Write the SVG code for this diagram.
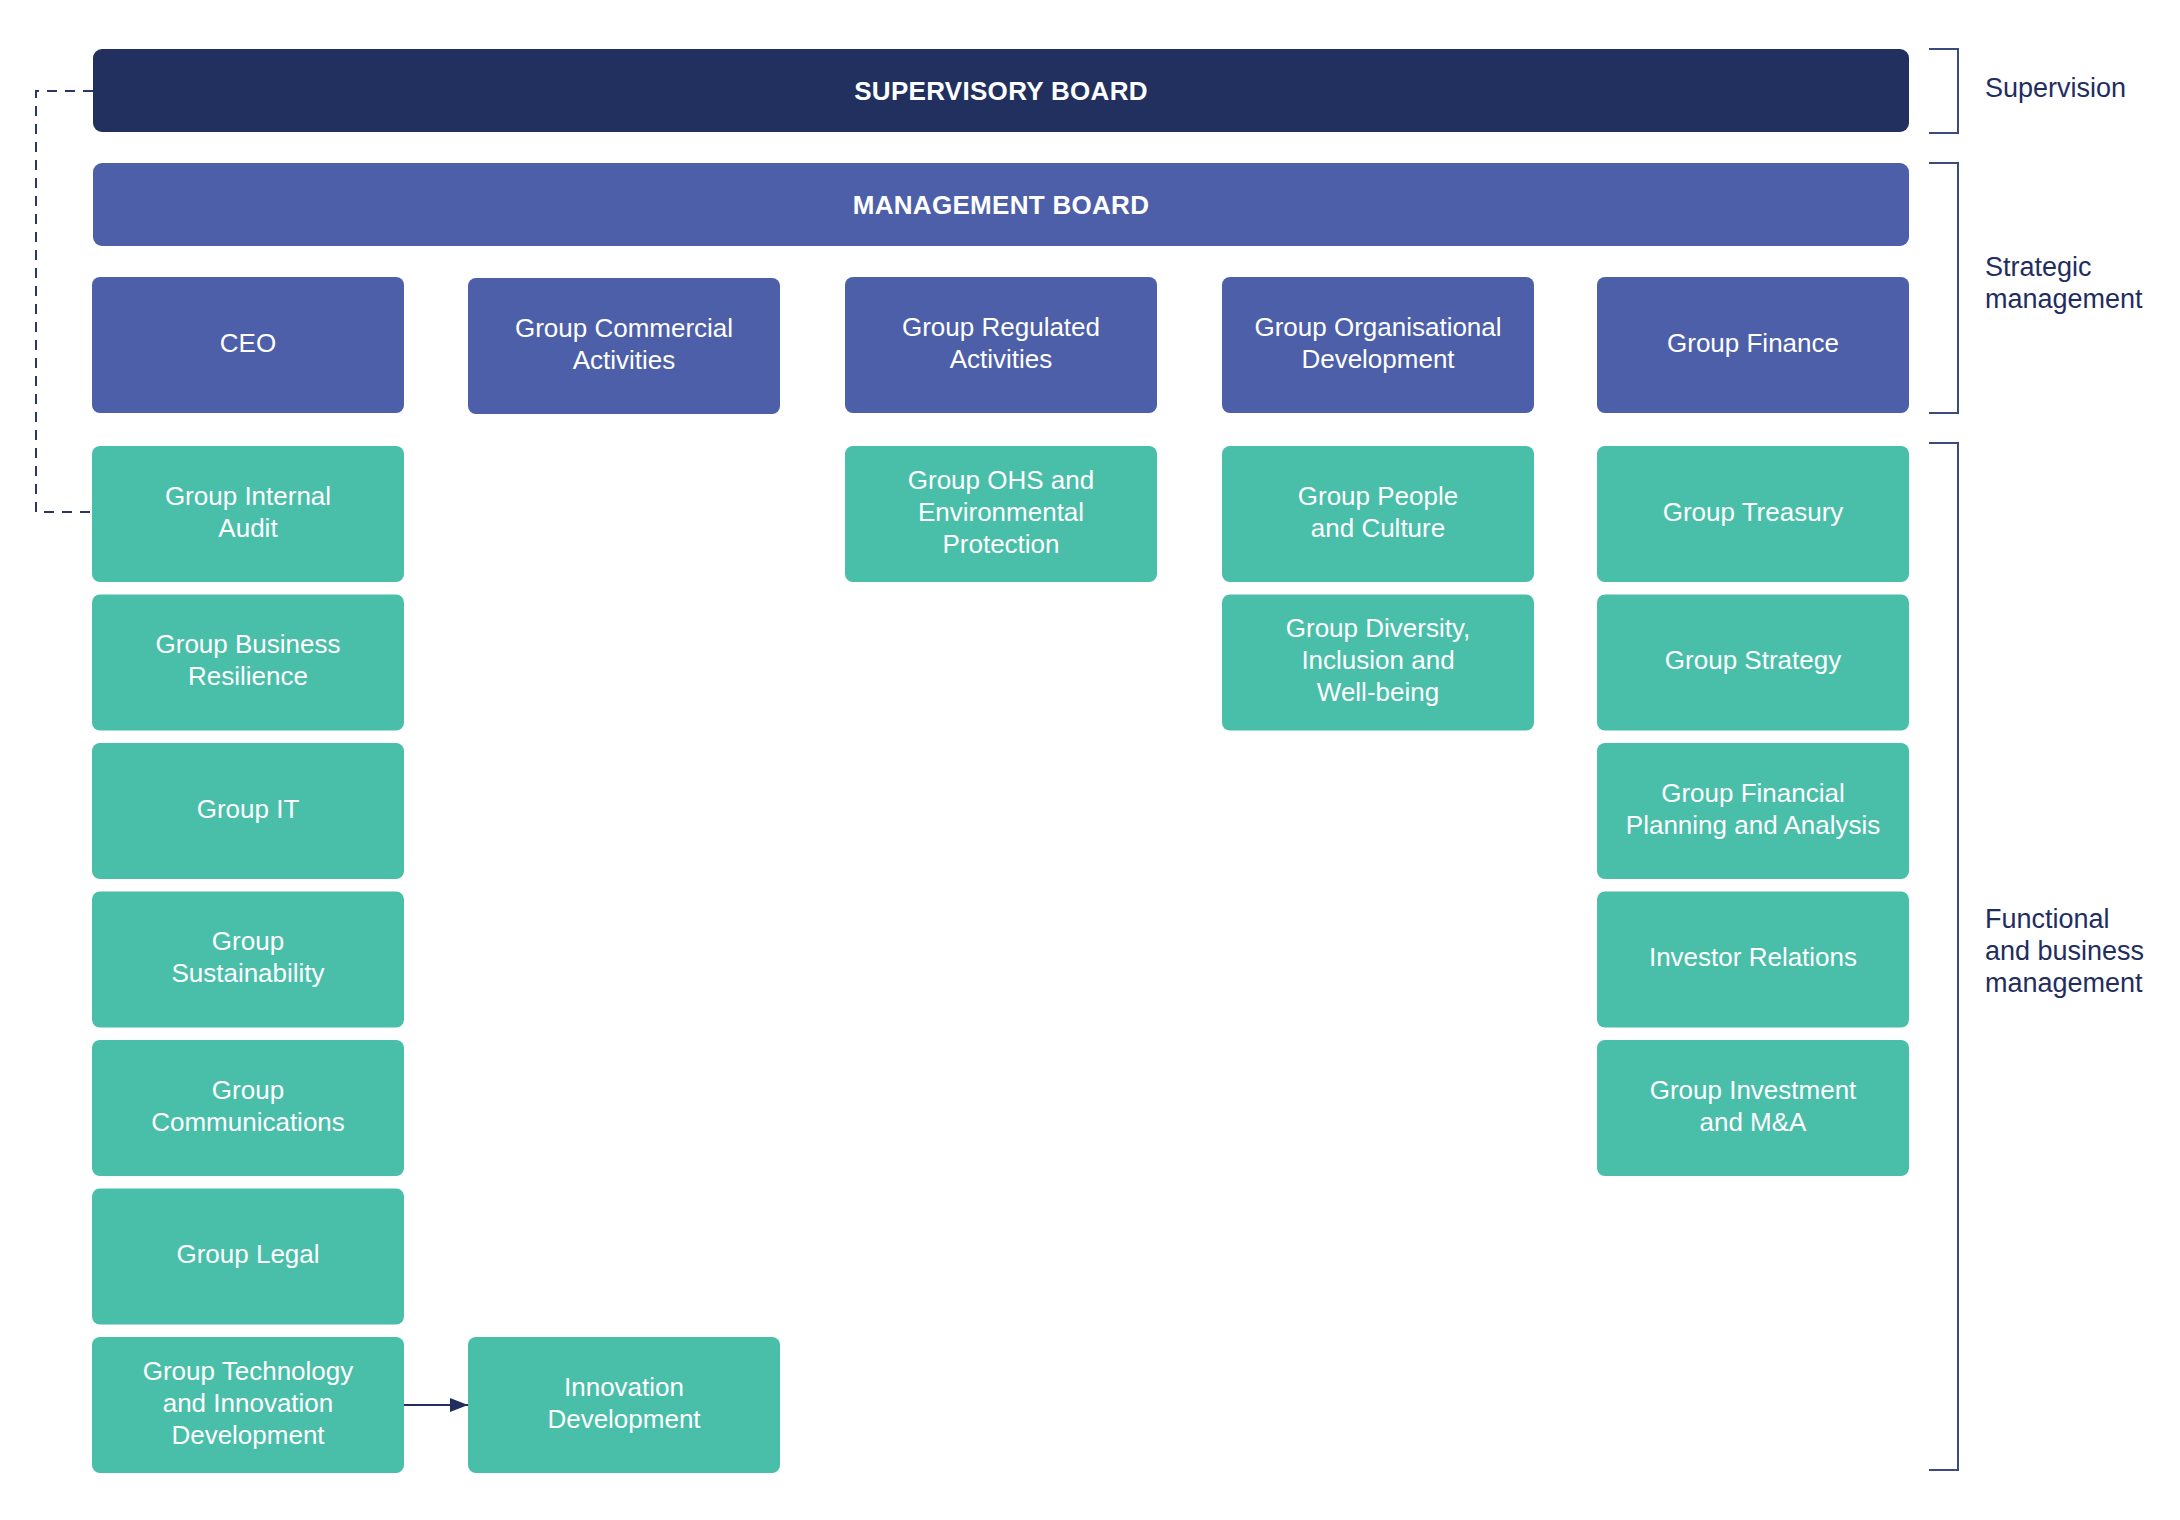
<svg xmlns="http://www.w3.org/2000/svg" width="2180" height="1520" viewBox="0 0 2180 1520">
<style>
.board{fill:#21305f}
.mgmt{fill:#4d5fa9}
.exec{fill:#4d5fa9}
.func{fill:#49bea9}
.bt{font-family:"Liberation Sans",Arial,sans-serif;font-weight:bold;font-size:26px;fill:#ffffff;text-anchor:middle;letter-spacing:0.3px}
.t{font-family:"Liberation Sans",Arial,sans-serif;font-size:26px;fill:#ffffff;text-anchor:middle}
.side{font-family:"Liberation Sans",Arial,sans-serif;font-size:27px;fill:#1f2d5f}
.br{fill:none;stroke:#3c4a7c;stroke-width:2}
.dash{fill:none;stroke:#2a3766;stroke-width:2;stroke-dasharray:10 8}
.arr{fill:none;stroke:#1f2d5f;stroke-width:2}
</style>
<defs>
<marker id="ah" markerUnits="userSpaceOnUse" markerWidth="18" markerHeight="14" refX="18" refY="7" orient="auto">
<path d="M0,0 L18,7 L0,14 z" fill="#1f2d5f"/>
</marker>
</defs>
<rect width="2180" height="1520" fill="#ffffff"/>

<g id="connectors">
<path class="dash" d="M93 91 H36 V512 H92"/>
<path class="arr" d="M404 1405 H468" marker-end="url(#ah)"/>
</g>

<g id="brackets">
<path class="br" d="M1929 49 H1958 V133 H1929"/>
<path class="br" d="M1929 163 H1958 V413 H1929"/>
<path class="br" d="M1929 443 H1958 V1470 H1929"/>
<text class="side" x="1985" y="97">Supervision</text>
<text class="side" x="1985" y="276">Strategic</text>
<text class="side" x="1985" y="308">management</text>
<text class="side" x="1985" y="928">Functional</text>
<text class="side" x="1985" y="960">and business</text>
<text class="side" x="1985" y="992">management</text>
</g>

<g id="supervisory-board">
<rect class="board" x="93" y="49" width="1816" height="83" rx="9"/>
<text class="bt" x="1001" y="100">SUPERVISORY BOARD</text>
</g>
<g id="management-board">
<rect class="mgmt" x="93" y="163" width="1816" height="83" rx="9"/>
<text class="bt" x="1001" y="214">MANAGEMENT BOARD</text>
</g>

<g id="ceo">
<rect class="exec" x="92" y="277" width="312" height="136" rx="8"/>
<text class="t" x="248" y="351.5">CEO</text>
</g>
<g id="group-commercial-activities">
<rect class="exec" x="468" y="278" width="312" height="136" rx="8"/>
<text class="t" x="624" y="336.5">Group Commercial</text>
<text class="t" x="624" y="368.5">Activities</text>
</g>
<g id="group-regulated-activities">
<rect class="exec" x="845" y="277" width="312" height="136" rx="8"/>
<text class="t" x="1001" y="335.5">Group Regulated</text>
<text class="t" x="1001" y="367.5">Activities</text>
</g>
<g id="group-organisational-development">
<rect class="exec" x="1222" y="277" width="312" height="136" rx="8"/>
<text class="t" x="1378" y="335.5">Group Organisational</text>
<text class="t" x="1378" y="367.5">Development</text>
</g>
<g id="group-finance">
<rect class="exec" x="1597" y="277" width="312" height="136" rx="8"/>
<text class="t" x="1753" y="351.5">Group Finance</text>
</g>

<g id="group-internal-audit">
<rect class="func" x="92" y="446" width="312" height="136" rx="8"/>
<text class="t" x="248" y="504.5">Group Internal</text>
<text class="t" x="248" y="536.5">Audit</text>
</g>
<g id="group-business-resilience">
<rect class="func" x="92" y="594.5" width="312" height="136" rx="8"/>
<text class="t" x="248" y="653">Group Business</text>
<text class="t" x="248" y="685">Resilience</text>
</g>
<g id="group-it">
<rect class="func" x="92" y="743" width="312" height="136" rx="8"/>
<text class="t" x="248" y="817.5">Group IT</text>
</g>
<g id="group-sustainability">
<rect class="func" x="92" y="891.5" width="312" height="136" rx="8"/>
<text class="t" x="248" y="950">Group</text>
<text class="t" x="248" y="982">Sustainability</text>
</g>
<g id="group-communications">
<rect class="func" x="92" y="1040" width="312" height="136" rx="8"/>
<text class="t" x="248" y="1098.5">Group</text>
<text class="t" x="248" y="1130.5">Communications</text>
</g>
<g id="group-legal">
<rect class="func" x="92" y="1188.5" width="312" height="136" rx="8"/>
<text class="t" x="248" y="1263">Group Legal</text>
</g>
<g id="group-technology-innovation-development">
<rect class="func" x="92" y="1337" width="312" height="136" rx="8"/>
<text class="t" x="248" y="1379.5">Group Technology</text>
<text class="t" x="248" y="1411.5">and Innovation</text>
<text class="t" x="248" y="1443.5">Development</text>
</g>
<g id="innovation-development">
<rect class="func" x="468" y="1337" width="312" height="136" rx="8"/>
<text class="t" x="624" y="1395.5">Innovation</text>
<text class="t" x="624" y="1427.5">Development</text>
</g>

<g id="group-ohs-environmental-protection">
<rect class="func" x="845" y="446" width="312" height="136" rx="8"/>
<text class="t" x="1001" y="488.5">Group OHS and</text>
<text class="t" x="1001" y="520.5">Environmental</text>
<text class="t" x="1001" y="552.5">Protection</text>
</g>

<g id="group-people-culture">
<rect class="func" x="1222" y="446" width="312" height="136" rx="8"/>
<text class="t" x="1378" y="504.5">Group People</text>
<text class="t" x="1378" y="536.5">and Culture</text>
</g>
<g id="group-diversity-inclusion-wellbeing">
<rect class="func" x="1222" y="594.5" width="312" height="136" rx="8"/>
<text class="t" x="1378" y="637">Group Diversity,</text>
<text class="t" x="1378" y="669">Inclusion and</text>
<text class="t" x="1378" y="701">Well-being</text>
</g>

<g id="group-treasury">
<rect class="func" x="1597" y="446" width="312" height="136" rx="8"/>
<text class="t" x="1753" y="520.5">Group Treasury</text>
</g>
<g id="group-strategy">
<rect class="func" x="1597" y="594.5" width="312" height="136" rx="8"/>
<text class="t" x="1753" y="669">Group Strategy</text>
</g>
<g id="group-fpa">
<rect class="func" x="1597" y="743" width="312" height="136" rx="8"/>
<text class="t" x="1753" y="801.5">Group Financial</text>
<text class="t" x="1753" y="833.5">Planning and Analysis</text>
</g>
<g id="investor-relations">
<rect class="func" x="1597" y="891.5" width="312" height="136" rx="8"/>
<text class="t" x="1753" y="966">Investor Relations</text>
</g>
<g id="group-investment-ma">
<rect class="func" x="1597" y="1040" width="312" height="136" rx="8"/>
<text class="t" x="1753" y="1098.5">Group Investment</text>
<text class="t" x="1753" y="1130.5">and M&amp;A</text>
</g>
</svg>
